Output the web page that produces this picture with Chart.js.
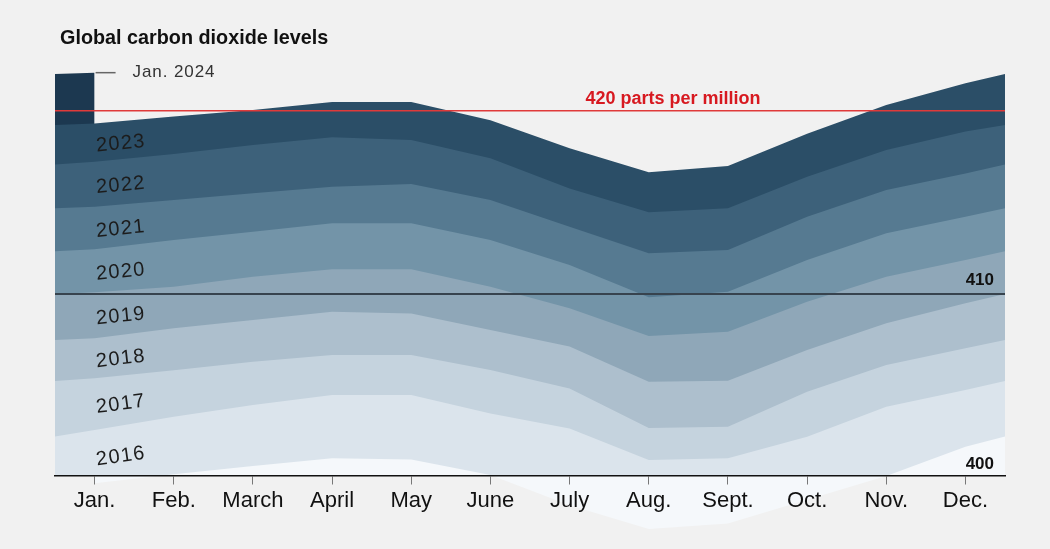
<!DOCTYPE html>
<html>
<head>
<meta charset="utf-8">
<script src="https://cdn.jsdelivr.net/npm/chart.js@4.4.1/dist/chart.umd.min.js"></script>
<style>
  html, body { margin: 0; padding: 0; background: #f1f1f1; }
  canvas { display: block; }
</style>
</head>
<body>
<canvas id="c" width="1050" height="549"></canvas>
<script>
// ---------------- data ----------------
const monthLabels = ["Jan.", "Feb.", "March", "April", "May", "June", "July", "Aug.", "Sept.", "Oct.", "Nov.", "Dec."];
const years = [2015, 2016, 2017, 2018, 2019, 2020, 2021, 2022, 2023, 2024];

// monthly global CO2, ppm (Jan..Dec)
const co2_2015 = [399.6, 400.1, 400.55, 400.97, 400.9, 400.05, 398.4, 397.1, 397.4, 398.7, 400.0, 401.6];
const co2_2016 = [402.52, 403.25, 403.89, 404.44, 404.44, 403.43, 402.6, 400.88, 400.97, 402.15, 403.8, 404.71];
const co2_2017 = [405.35, 405.8, 406.26, 406.63, 406.63, 405.81, 404.8, 402.63, 402.7, 404.62, 406.08, 407.0];
const co2_2018 = [407.55, 408.1, 408.55, 409.0, 408.91, 408.0, 407.09, 405.17, 405.22, 406.9, 408.37, 409.46];
const co2_2019 = [410.07, 410.37, 410.92, 411.33, 411.33, 410.37, 409.19, 407.67, 407.9, 409.55, 410.92, 411.84];
const co2_2020 = [412.42, 412.93, 413.39, 413.85, 413.85, 412.93, 411.56, 409.79, 410.1, 411.84, 413.3, 414.21];
const co2_2021 = [414.76, 415.12, 415.49, 415.85, 416.0, 415.12, 413.66, 412.2, 412.38, 414.21, 415.67, 416.58];
const co2_2022 = [417.22, 417.64, 418.14, 418.56, 418.41, 417.41, 415.76, 414.45, 414.67, 416.4, 417.86, 418.87];
const co2_2023 = [419.32, 419.7, 420.05, 420.5, 420.5, 419.5, 417.96, 416.64, 416.99, 418.75, 420.33, 421.52];
const co2_2024 = [422.1];

// value at the Jan. 1 boundary of each year (the chart's left / right edges)
const boundaryYears  = [2016, 2017, 2018, 2019, 2020, 2021, 2022, 2023, 2024];
const boundaryValues = [402.17, 405.2, 407.45, 409.97, 412.32, 414.67, 417.07, 419.23, 422.03];

const refLines = [410, 420];
const baseline = 400;

// ---------------- styling ----------------
const bandColors = {
  2015: "#f5f8fb", 2016: "#dbe4ec", 2017: "#c5d3de", 2018: "#adbfcd", 2019: "#8fa7b8",
  2020: "#7394a8", 2021: "#567a91", 2022: "#3d617a", 2023: "#2b4e67", 2024: "#1c3850"
};

const seriesByYear = {
  2015: co2_2015, 2016: co2_2016, 2017: co2_2017, 2018: co2_2018, 2019: co2_2019,
  2020: co2_2020, 2021: co2_2021, 2022: co2_2022, 2023: co2_2023, 2024: co2_2024
};
function boundary(y) {
  const i = boundaryYears.indexOf(y);
  return i === -1 ? null : boundaryValues[i];
}
function buildPoints(year) {
  const pts = [];
  const start = boundary(year);
  if (start !== null) pts.push({ x: 0, y: start });
  seriesByYear[year].forEach((v, i) => pts.push({ x: i + 0.5, y: v }));
  if (seriesByYear[year].length === 12) {
    const end = boundary(year + 1);
    if (end !== null) pts.push({ x: 12, y: end });
  }
  return pts;
}

// earliest year first => drawn on top
const datasets = years.map(y => ({
  label: String(y),
  data: buildPoints(y),
  backgroundColor: bandColors[y],
  borderWidth: 0,
  pointRadius: 0,
  tension: 0,
  fill: { value: baseline }
}));

const monthCenters = monthLabels.map((m, i) => i + 0.5);

const textPlugin = {
  id: "texts",
  afterDraw(chart) {
    const ctx = chart.ctx;
    const xs = chart.scales.x, ys = chart.scales.y;
    ctx.save();
    // title
    ctx.fillStyle = "#111";
    ctx.font = 'bold 19.8px "Liberation Sans", Arial, sans-serif';
    ctx.textAlign = "left";
    ctx.textBaseline = "alphabetic";
    ctx.fillText("Global carbon dioxide levels", 60, 44);

    // Jan. 2024 annotation
    const jx = xs.getPixelForValue(0.5);
    const jy = ys.getPixelForValue(co2_2024[0]);
    ctx.strokeStyle = "#666";
    ctx.lineWidth = 1.5;
    ctx.beginPath();
    ctx.moveTo(jx + 1, jy);
    ctx.lineTo(jx + 21, jy);
    ctx.stroke();
    ctx.fillStyle = "#333";
    ctx.font = '17px "Liberation Sans", Arial, sans-serif';
    ctx.letterSpacing = "0.9px";
    ctx.textBaseline = "middle";
    ctx.fillText("Jan. 2024", jx + 38, jy);
    ctx.letterSpacing = "0px";

    // reference line labels
    ctx.fillStyle = "#d71920";
    ctx.font = 'bold 18px "Liberation Sans", Arial, sans-serif';
    ctx.textAlign = "center";
    ctx.fillText("420 parts per million", 673, ys.getPixelForValue(420) - 12);

    ctx.fillStyle = "#111";
    ctx.font = 'bold 17px "Liberation Sans", Arial, sans-serif';
    ctx.textAlign = "right";
    ctx.fillText("410", 994, ys.getPixelForValue(410) - 13);
    ctx.fillText("400", 994, ys.getPixelForValue(400) - 12);

    // year labels inside bands
    ctx.fillStyle = "#1c1c1c";
    ctx.font = '20px "Liberation Sans", Arial, sans-serif';
    ctx.letterSpacing = "1.3px";
    ctx.textAlign = "center";
    const pos = 0.82;
    const f = pos - 0.5;
    for (let y = 2016; y <= 2023; y++) {
      const lo = seriesByYear[y - 1], hi = seriesByYear[y];
      const midAt = (k) => (lo[k] + hi[k]) / 2;
      const m0 = midAt(0), m1 = midAt(1);
      const v = m0 + (m1 - m0) * f;
      const px = xs.getPixelForValue(pos) + 1;
      const py = ys.getPixelForValue(v) + 3.5;
      const ang = Math.atan2(ys.getPixelForValue(m1) - ys.getPixelForValue(m0),
                             xs.getPixelForValue(1.5) - xs.getPixelForValue(0.5));
      ctx.save();
      ctx.translate(px, py);
      ctx.rotate(ang);
      ctx.fillText(String(y), 0, 0);
      ctx.restore();
    }
    ctx.restore();
  }
};

new Chart(document.getElementById("c"), {
  type: "line",
  data: { datasets },
  options: {
    responsive: false,
    animation: false,
    devicePixelRatio: 1,
    layout: { padding: { left: 55, right: 45, top: 56.25, bottom: 0 } },
    plugins: { legend: { display: false }, tooltip: { enabled: false }, title: { display: false } },
    scales: {
      x: {
        type: "linear",
        min: 0,
        max: 12,
        position: { y: baseline },
        afterFit: (s) => { s.height = 0; },
        afterBuildTicks: (s) => { s.ticks = monthCenters.map(v => ({ value: v })); },
        ticks: {
          autoSkip: false,
          maxRotation: 0,
          minRotation: 0,
          padding: 3.5,
          color: "#111",
          font: { family: '"Liberation Sans", Arial, sans-serif', size: 22 },
          callback: (v, i) => monthLabels[i],
          z: 2
        },
        grid: { drawOnChartArea: false, drawTicks: true, tickLength: 8, color: "#777", lineWidth: 1, z: 2 },
        border: { display: true, color: "#111", width: 1.5, z: 2 }
      },
      y: {
        type: "linear",
        min: 396,
        max: 423,
        afterFit: (s) => { s.width = 0; },
        afterBuildTicks: (s) => { s.ticks = refLines.map(v => ({ value: v })); },
        ticks: { display: false },
        grid: {
          drawTicks: false,
          z: 1,
          color: (c) => (c.tick && c.tick.value === 420 ? "#e03a3a" : "#37434e"),
          lineWidth: (c) => (c.tick && c.tick.value === 420 ? 1.4 : 2)
        },
        border: { display: false }
      }
    }
  },
  plugins: [textPlugin]
});
</script>
</body>
</html>
